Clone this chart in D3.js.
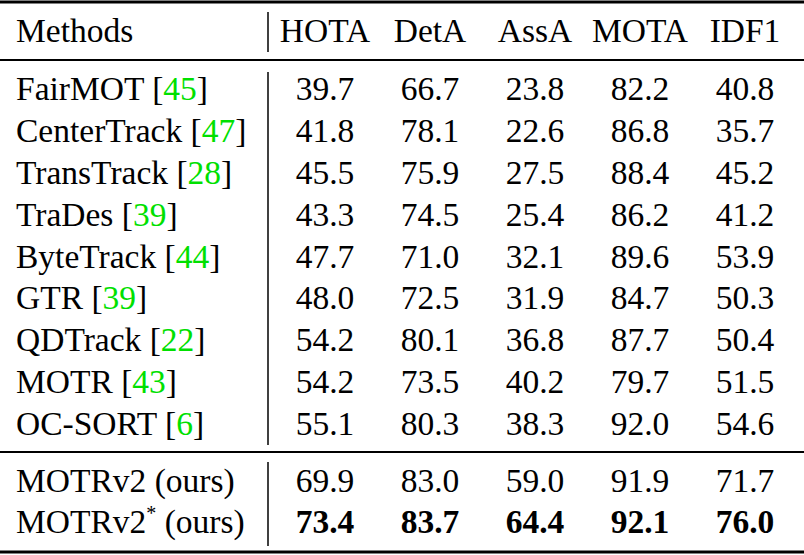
<!DOCTYPE html>
<html><head><meta charset="utf-8">
<script src="https://cdn.jsdelivr.net/npm/d3@7"></script>
<style>body{margin:0;background:#fff}</style>
</head><body>
<script>
const methods = ['FairMOT', 'CenterTrack', 'TransTrack', 'TraDes', 'ByteTrack', 'GTR', 'QDTrack', 'MOTR', 'OC-SORT']
const refs = ['45', '47', '28', '39', '44', '39', '22', '43', '6']
const columns = ['HOTA', 'DetA', 'AssA', 'MOTA', 'IDF1']
const values = [
    [39.7, 66.7, 23.8, 82.2, 40.8],
    [41.8, 78.1, 22.6, 86.8, 35.7],
    [45.5, 75.9, 27.5, 88.4, 45.2],
    [43.3, 74.5, 25.4, 86.2, 41.2],
    [47.7, 71.0, 32.1, 89.6, 53.9],
    [48.0, 72.5, 31.9, 84.7, 50.3],
    [54.2, 80.1, 36.8, 87.7, 50.4],
    [54.2, 73.5, 40.2, 79.7, 51.5],
    [55.1, 80.3, 38.3, 92.0, 54.6]
]
const ours = [[69.9, 83.0, 59.0, 91.9, 71.7], [73.4, 83.7, 64.4, 92.1, 76.0]]

const w = 804, h = 555, fs = 33.5
const svg = d3.select('body').append('svg').attr('width', w).attr('height', h)
    .style('font-family', '"Liberation Serif", "Times New Roman", serif').style('font-size', fs + 'px')

const xScale = d3.scalePoint().domain(columns).range([325, 745])
const yScale = d3.scaleLinear().domain([0, 8]).range([100, 435])
const yOurs = d3.scaleLinear().domain([0, 1]).range([492, 533])

function rule(y, sw){
    svg.append('line').attr('x1', 0).attr('x2', w).attr('y1', y).attr('y2', y)
        .attr('stroke', '#000').attr('stroke-width', sw)
}
function vline(y1, y2){
    svg.append('line').attr('x1', 268).attr('x2', 268).attr('y1', y1).attr('y2', y2)
        .attr('stroke', '#000').attr('stroke-width', 1.5)
}
rule(2, 3); rule(60, 1.8); rule(452, 1.8); rule(552, 3)
vline(12, 52); vline(72, 445); vline(462, 546)

svg.append('text').attr('x', 16).attr('y', 42).text('Methods')
svg.selectAll('.hdr').data(columns).enter().append('text').attr('class', 'hdr')
    .attr('x', d => xScale(d)).attr('y', 42).attr('text-anchor', 'middle').text(d => d)

methods.forEach(function(m, i){
    const t = svg.append('text').attr('x', 16).attr('y', yScale(i))
    t.append('tspan').text(m + ' [')
    t.append('tspan').attr('fill', '#00e000').text(refs[i])
    t.append('tspan').text(']')
    svg.selectAll('.r' + i).data(values[i]).enter().append('text')
        .attr('x', (d, j) => xScale(columns[j])).attr('y', yScale(i))
        .attr('text-anchor', 'middle').text(d => d.toFixed(1))
})

const t1 = svg.append('text').attr('x', 16).attr('y', yOurs(0)).text('MOTRv2 (ours)')
const t2 = svg.append('text').attr('x', 16).attr('y', yOurs(1))
t2.append('tspan').text('MOTRv2')
t2.append('tspan').attr('dy', -13).attr('font-size', '20px').text('*')
t2.append('tspan').attr('dy', 13).text(' (ours)')
ours.forEach(function(row, i){
    svg.selectAll('.o' + i).data(row).enter().append('text')
        .attr('x', (d, j) => xScale(columns[j])).attr('y', yOurs(i))
        .attr('text-anchor', 'middle').attr('font-weight', i === 1 ? 'bold' : 'normal')
        .text(d => d.toFixed(1))
})
</script>
</body></html>
